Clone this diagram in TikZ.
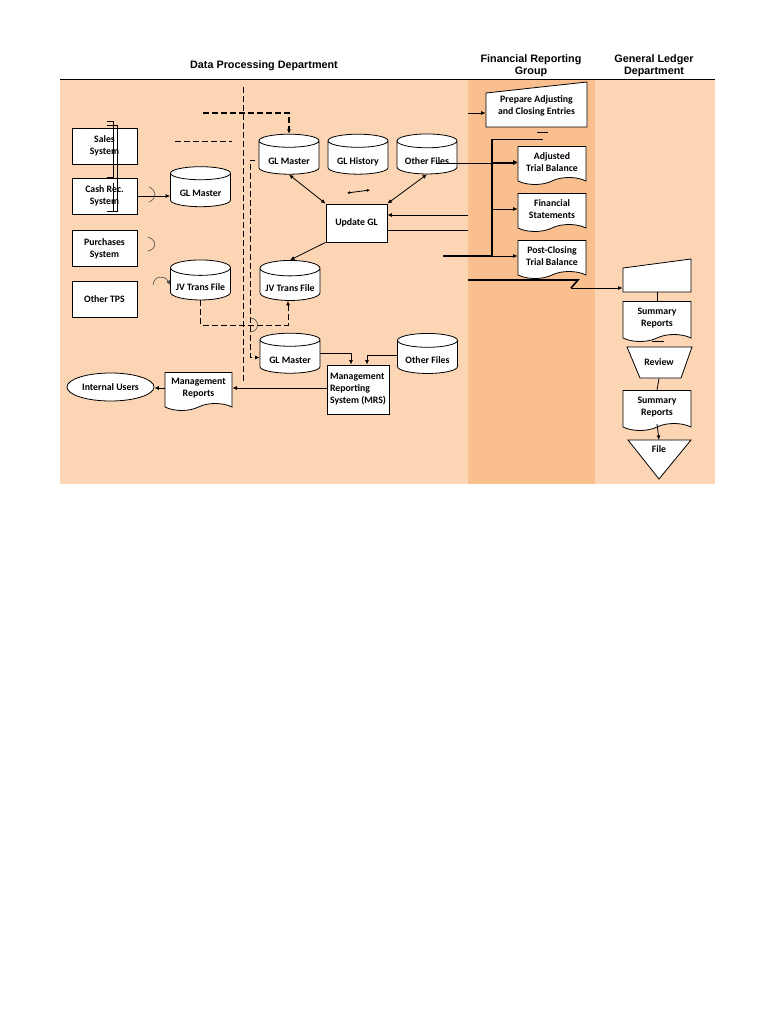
\documentclass[tikz,border=0pt]{standalone}
\usepackage{fontspec}
\setmainfont{Carlito}
\newfontfamily\headfont{Liberation Sans}
\usetikzlibrary{shapes.geometric,shapes.symbols,arrows.meta}
\definecolor{peach}{HTML}{FCD5B4}
\definecolor{band}{HTML}{FABF8F}

\begin{document}
\begin{tikzpicture}[x=1pt,y=-1pt,
  every node/.style={font=\fontsize{9.8}{12}\selectfont\bfseries,inner sep=1},
  >={Latex[length=4.5pt,width=4pt]},
  line width=0.8pt,
  proc/.style={draw,fill=white,minimum width=65,minimum height=36,align=center},
  dbfile/.style={draw,fill=white,cylinder,shape border rotate=90,aspect=0.3,minimum width=60,minimum height=40,text height=13.5pt,text depth=2pt},
  docu/.style={draw,fill=white,tape,tape bend top=none,tape bend height=7,minimum width=68,minimum height=38,align=center},
  dashln/.style={dash pattern=on 6pt off 3pt,line width=0.8pt},
  thickdash/.style={dash pattern=on 6pt off 3pt,line width=1.6pt},
  jump/.style={line width=0.6pt,black!70},
  head/.style={font=\headfont\bfseries\fontsize{10.8}{12}\selectfont,align=center}]
\useasboundingbox[fill=white] (0,0) rectangle (768,1024);

% swimlanes
\fill[peach] (60,80) rectangle (715,484);
\fill[band] (468,80) rectangle (595,484);
\draw (60,79) -- (715,79);
\node[head] (dpd) at (264,66) {Data Processing Department};
\node[head] (frg) at (531,66) {Financial Reporting\\Group};
\node[head] (gld) at (654,66) {General Ledger\\Department};

% data processing
\node[proc] (sales) at (104.5,146) {Sales\\System};
\node[proc] (cashrec) at (104.5,196) {Cash Rec.\\System};
\node[proc] (purch) at (104.5,248.5) {Purchases\\System};
\node[proc] (othtps) at (104.5,299.5) {Other TPS};
\draw (107,121) -- (113,121) -- (113,177) -- (107,177);
\draw (107,125) -- (117,125) -- (117,211) -- (107,211);
\draw (113,183) -- (113,211);

\node[dbfile] (glmA) at (200.5,191) {GL Master};
\node[dbfile] (jvA) at (200.5,285) {JV Trans File};
\node[dbfile] (glmB) at (289,158.5) {GL Master};
\node[dbfile] (glhist) at (358,158.5) {GL History};
\node[dbfile] (othA) at (427,158.5) {Other Files};
\node[proc,minimum width=61,minimum height=38] (updgl) at (356.5,223) {Update GL};
\node[dbfile] (jvB) at (290,285.5) {JV Trans File};
\node[dbfile] (glmC) at (290,357.5) {GL Master};
\node[dbfile] (othB) at (427.5,358) {Other Files};
\node[proc,minimum width=62,minimum height=49,align=left] (mrs) at (358,389.5) {Management\\Reporting\\System (MRS)};
\node[docu,minimum width=67,minimum height=38] (mgmt) at (198.5,388) {Management\\Reports};
\node[draw,fill=white,ellipse,minimum width=87,minimum height=28] (intu) at (110.5,387) {Internal Users};

\draw[->] (cashrec.east) -- (cashrec.east -| glmA.west);
\draw[jump] (149,187) .. controls (157,190) and (157,199) .. (149,202);
\draw[jump] (148,237) .. controls (157,240) and (157,249) .. (148,251);
\draw[jump,->] (153,285) .. controls (154,275) and (165,275) .. (jvA.west);

\coordinate (tdash) at (203,113);
\draw[thickdash,->] (tdash) -| (glmB.north);
\draw[dashln] (175,141) -- (232,141);
\draw[dashln] (243,87) -- (243,383);
\draw[dashln,->] (255,160) -- (250,160) |- (glmC.west);
\coordinate (jvlink) at (288,325);
\draw[dashln,->] (jvA.south) |- (jvlink) -- (jvlink |- jvB.south);
\draw[jump] (250,318) .. controls (260,318) and (260,332) .. (250,332);

\draw[<->] (glmB.south) -- (updgl.north west);
\draw[<->] (othA.south) -- (updgl.north east);
\coordinate (tinyA) at (347,193);
\coordinate (tinyB) at (370,190);
\draw[<->,>={Latex[length=3pt,width=3pt]}] (tinyA) -- (tinyB);
\draw[->] (updgl.south west) -- (jvB.north);

\coordinate (cornA) at (351,353);
\draw[->] (glmC.east |- cornA) -- (cornA) -- (cornA |- mrs.north);
\coordinate (cornB) at (367,355);
\draw[->] (othB.west |- cornB) -- (cornB) -- (cornB |- mrs.north);
\draw[->] (mrs.west |- mgmt.east) -- (mgmt.east);
\draw[->] (mgmt.west) -- (mgmt.west -| intu.east);

% financial reporting
\draw[fill=white] (486,93) -- (587,82) -- (587,127) -- (486,127) -- cycle;
\node[minimum width=101,minimum height=45,align=center] (prep) at (536.5,106) {Prepare Adjusting\\and Closing Entries};
\node[docu] (adjtb) at (552,162) {Adjusted\\Trial Balance};
\node[docu] (finst) at (552,209) {Financial\\Statements};
\node[docu] (pctb) at (552,256) {Post-Closing\\Trial Balance};

\coordinate (inprep) at (468,113);
\draw[->] (inprep) -- (inprep -| prep.west);
\coordinate (strike) at (437,163);
\draw[->] (strike) -- (strike -| adjtb.west);
\coordinate (fbA) at (468,215);
\draw[->] (fbA) -- (fbA -| updgl.east);
\coordinate (fbB) at (468,230);
\draw (fbB -| updgl.east) -- (fbB);
\coordinate (brT) at (492,139);
\coordinate (brB) at (492,256);
\draw[line width=1.6pt] (443,256) -- (brB);
\draw[line width=1.2pt] (brB) -- (brT);
\draw (brT) -- (543,139);
\draw (537,132) -- (548,132);
\draw[->] (brT |- adjtb.west) -- (adjtb.west);
\draw[->] (brT |- finst.west) -- (finst.west);
\draw[->] (brT |- pctb.west) -- (pctb.west);

\coordinate (zzA) at (468,280);
\coordinate (zzB) at (578,280);
\coordinate (zzC) at (571,288);
\draw[line width=1.6pt] (zzA) -- (zzB) -- (zzC);

% general ledger
\draw[fill=white] (623,268) -- (691,259) -- (691,292) -- (623,292) -- cycle;
\node[minimum width=68,minimum height=33] (blankin) at (657,275.5) {};
\draw[->] (zzC) -- (zzC -| blankin.west);
\node[docu,minimum height=40] (sumA) at (657,318) {Summary\\Reports};
\draw (blankin.south) -- (sumA.north);
\draw (652,341) -- (664,341);
\draw[fill=white] (627,347) -- (692,347) -- (681,378) -- (640,378) -- cycle;
\node[minimum width=50,minimum height=31] (review) at (659,362.5) {Review};
\node[docu,minimum height=40] (sumB) at (657,407) {Summary\\Reports};
\draw (review.south) -- (sumB.north);
\draw[fill=white] (628,440) -- (691,440) -- (659,479) -- cycle;
\node[anchor=north,minimum height=18] (filetri) at (659,440) {File};
\draw[->] (sumB.south) -- (filetri.north);
\end{tikzpicture}
\end{document}
